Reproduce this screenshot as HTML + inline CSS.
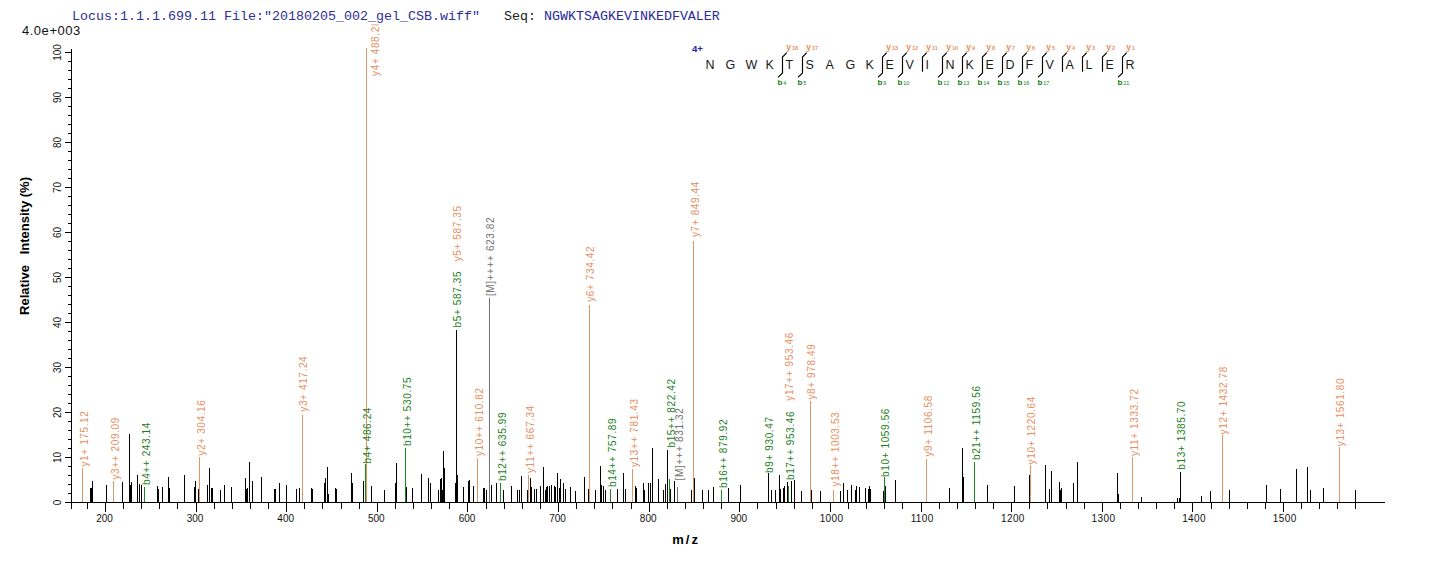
<!DOCTYPE html><html><head><meta charset="utf-8"><style>html,body{margin:0;padding:0;background:#fff;width:1436px;height:562px;overflow:hidden}svg{display:block}.s{font-family:"Liberation Sans",sans-serif}.m{font-family:"Liberation Mono",monospace}</style></head><body><svg width="1436" height="562" viewBox="0 0 1436 562"><rect width="1436" height="562" fill="#fff"/><rect x="82" y="468" width="1" height="34" fill="#D99866"/><rect x="90" y="488" width="1" height="14" fill="#000"/><rect x="91" y="488" width="1" height="14" fill="#000"/><rect x="92" y="481" width="1" height="21" fill="#000"/><rect x="106" y="485" width="1" height="17" fill="#000"/><rect x="113" y="481" width="1" height="21" fill="#D99866"/><rect x="122" y="482" width="1" height="20" fill="#000"/><rect x="129" y="434" width="1" height="68" fill="#000"/><rect x="130" y="485" width="1" height="17" fill="#000"/><rect x="131" y="482" width="1" height="20" fill="#000"/><rect x="137" y="475" width="1" height="27" fill="#000"/><rect x="139" y="484" width="1" height="18" fill="#000"/><rect x="141" y="485" width="1" height="17" fill="#000"/><rect x="144" y="487" width="1" height="15" fill="#1E881E"/><rect x="157" y="486" width="1" height="16" fill="#000"/><rect x="158" y="489" width="1" height="13" fill="#000"/><rect x="162" y="487" width="1" height="15" fill="#000"/><rect x="168" y="477" width="1" height="25" fill="#000"/><rect x="169" y="488" width="1" height="14" fill="#000"/><rect x="184" y="475" width="1" height="27" fill="#000"/><rect x="194" y="487" width="1" height="15" fill="#000"/><rect x="195" y="481" width="1" height="21" fill="#000"/><rect x="198" y="489" width="1" height="13" fill="#000"/><rect x="199" y="457" width="1" height="45" fill="#D99866"/><rect x="207" y="485" width="1" height="17" fill="#000"/><rect x="209" y="468" width="1" height="34" fill="#000"/><rect x="211" y="488" width="1" height="14" fill="#000"/><rect x="212" y="488" width="1" height="14" fill="#000"/><rect x="220" y="490" width="1" height="12" fill="#000"/><rect x="224" y="485" width="1" height="17" fill="#000"/><rect x="231" y="487" width="1" height="15" fill="#000"/><rect x="245" y="478" width="1" height="24" fill="#000"/><rect x="246" y="489" width="1" height="13" fill="#000"/><rect x="247" y="488" width="1" height="14" fill="#000"/><rect x="249" y="462" width="1" height="40" fill="#000"/><rect x="252" y="481" width="1" height="21" fill="#000"/><rect x="261" y="477" width="1" height="25" fill="#000"/><rect x="274" y="489" width="1" height="13" fill="#000"/><rect x="275" y="489" width="1" height="13" fill="#000"/><rect x="279" y="483" width="1" height="19" fill="#000"/><rect x="286" y="485" width="1" height="17" fill="#000"/><rect x="296" y="489" width="1" height="13" fill="#000"/><rect x="299" y="488" width="1" height="14" fill="#000"/><rect x="302" y="415" width="1" height="87" fill="#D99866"/><rect x="311" y="488" width="1" height="14" fill="#000"/><rect x="312" y="489" width="1" height="13" fill="#000"/><rect x="324" y="483" width="1" height="19" fill="#000"/><rect x="325" y="478" width="1" height="24" fill="#000"/><rect x="327" y="467" width="1" height="35" fill="#000"/><rect x="328" y="494" width="1" height="8" fill="#000"/><rect x="335" y="488" width="1" height="14" fill="#000"/><rect x="336" y="489" width="1" height="13" fill="#000"/><rect x="351" y="473" width="1" height="29" fill="#000"/><rect x="352" y="483" width="1" height="19" fill="#000"/><rect x="363" y="481" width="1" height="21" fill="#000"/><rect x="365" y="464" width="1" height="38" fill="#1E881E"/><rect x="366" y="48" width="1" height="454" fill="#D99866"/><rect x="371" y="486" width="1" height="16" fill="#000"/><rect x="384" y="490" width="1" height="12" fill="#000"/><rect x="395" y="483" width="1" height="19" fill="#000"/><rect x="396" y="463" width="1" height="39" fill="#000"/><rect x="405" y="448" width="1" height="54" fill="#1E881E"/><rect x="406" y="487" width="1" height="15" fill="#000"/><rect x="412" y="488" width="1" height="14" fill="#000"/><rect x="421" y="474" width="1" height="28" fill="#000"/><rect x="428" y="478" width="1" height="24" fill="#000"/><rect x="430" y="483" width="1" height="19" fill="#000"/><rect x="438" y="490" width="1" height="12" fill="#000"/><rect x="440" y="479" width="1" height="23" fill="#000"/><rect x="441" y="478" width="1" height="24" fill="#000"/><rect x="442" y="490" width="1" height="12" fill="#000"/><rect x="443" y="451" width="1" height="51" fill="#000"/><rect x="444" y="468" width="1" height="34" fill="#000"/><rect x="455" y="483" width="1" height="19" fill="#000"/><rect x="456" y="330" width="1" height="172" fill="#000"/><rect x="457" y="475" width="1" height="27" fill="#000"/><rect x="463" y="487" width="1" height="15" fill="#000"/><rect x="468" y="481" width="1" height="21" fill="#000"/><rect x="469" y="480" width="1" height="22" fill="#000"/><rect x="473" y="486" width="1" height="16" fill="#000"/><rect x="477" y="458" width="1" height="44" fill="#D99866"/><rect x="483" y="488" width="1" height="14" fill="#000"/><rect x="484" y="488" width="1" height="14" fill="#000"/><rect x="486" y="490" width="1" height="12" fill="#000"/><rect x="489" y="298" width="1" height="204" fill="#707070"/><rect x="491" y="485" width="1" height="17" fill="#000"/><rect x="496" y="483" width="1" height="19" fill="#000"/><rect x="500" y="483" width="1" height="19" fill="#1E881E"/><rect x="503" y="490" width="1" height="12" fill="#000"/><rect x="511" y="486" width="1" height="16" fill="#000"/><rect x="517" y="490" width="1" height="12" fill="#000"/><rect x="519" y="490" width="1" height="12" fill="#000"/><rect x="521" y="476" width="1" height="26" fill="#000"/><rect x="527" y="490" width="1" height="12" fill="#000"/><rect x="528" y="475" width="1" height="27" fill="#D99866"/><rect x="530" y="478" width="1" height="24" fill="#000"/><rect x="531" y="487" width="1" height="15" fill="#000"/><rect x="534" y="489" width="1" height="13" fill="#000"/><rect x="536" y="489" width="1" height="13" fill="#000"/><rect x="540" y="486" width="1" height="16" fill="#000"/><rect x="543" y="467" width="1" height="35" fill="#000"/><rect x="545" y="490" width="1" height="12" fill="#000"/><rect x="546" y="487" width="1" height="15" fill="#000"/><rect x="547" y="486" width="1" height="16" fill="#000"/><rect x="549" y="486" width="1" height="16" fill="#000"/><rect x="551" y="485" width="1" height="17" fill="#000"/><rect x="554" y="486" width="1" height="16" fill="#000"/><rect x="555" y="487" width="1" height="15" fill="#000"/><rect x="557" y="473" width="1" height="29" fill="#000"/><rect x="559" y="488" width="1" height="14" fill="#000"/><rect x="560" y="479" width="1" height="23" fill="#000"/><rect x="563" y="483" width="1" height="19" fill="#000"/><rect x="565" y="489" width="1" height="13" fill="#000"/><rect x="570" y="487" width="1" height="15" fill="#000"/><rect x="575" y="491" width="1" height="11" fill="#000"/><rect x="584" y="477" width="1" height="25" fill="#000"/><rect x="588" y="489" width="1" height="13" fill="#000"/><rect x="589" y="305" width="1" height="197" fill="#D99866"/><rect x="595" y="490" width="1" height="12" fill="#000"/><rect x="600" y="466" width="1" height="36" fill="#000"/><rect x="601" y="485" width="1" height="17" fill="#000"/><rect x="603" y="486" width="1" height="16" fill="#000"/><rect x="605" y="490" width="1" height="12" fill="#000"/><rect x="610" y="489" width="1" height="13" fill="#1E881E"/><rect x="617" y="489" width="1" height="13" fill="#000"/><rect x="623" y="473" width="1" height="29" fill="#000"/><rect x="625" y="489" width="1" height="13" fill="#000"/><rect x="632" y="469" width="1" height="33" fill="#D99866"/><rect x="635" y="486" width="1" height="16" fill="#000"/><rect x="636" y="488" width="1" height="14" fill="#000"/><rect x="643" y="483" width="1" height="19" fill="#000"/><rect x="644" y="490" width="1" height="12" fill="#000"/><rect x="648" y="483" width="1" height="19" fill="#000"/><rect x="650" y="483" width="1" height="19" fill="#000"/><rect x="652" y="448" width="1" height="54" fill="#000"/><rect x="658" y="479" width="1" height="23" fill="#000"/><rect x="663" y="490" width="1" height="12" fill="#000"/><rect x="665" y="484" width="1" height="18" fill="#000"/><rect x="667" y="450" width="1" height="52" fill="#000"/><rect x="669" y="479" width="1" height="23" fill="#1E881E"/><rect x="670" y="489" width="1" height="13" fill="#000"/><rect x="674" y="481" width="1" height="21" fill="#000"/><rect x="677" y="487" width="1" height="15" fill="#707070"/><rect x="691" y="490" width="1" height="12" fill="#000"/><rect x="693" y="241" width="1" height="261" fill="#D99866"/><rect x="694" y="478" width="1" height="24" fill="#000"/><rect x="702" y="490" width="1" height="12" fill="#000"/><rect x="708" y="490" width="1" height="12" fill="#000"/><rect x="713" y="487" width="1" height="15" fill="#000"/><rect x="721" y="490" width="1" height="12" fill="#1E881E"/><rect x="728" y="488" width="1" height="14" fill="#000"/><rect x="740" y="485" width="1" height="17" fill="#000"/><rect x="768" y="473" width="1" height="29" fill="#000"/><rect x="771" y="490" width="1" height="12" fill="#000"/><rect x="775" y="490" width="1" height="12" fill="#000"/><rect x="779" y="475" width="1" height="27" fill="#000"/><rect x="780" y="489" width="1" height="13" fill="#000"/><rect x="783" y="488" width="1" height="14" fill="#000"/><rect x="784" y="486" width="1" height="16" fill="#000"/><rect x="787" y="482" width="1" height="20" fill="#000"/><rect x="788" y="486" width="1" height="16" fill="#1E881E"/><rect x="791" y="481" width="1" height="21" fill="#000"/><rect x="794" y="480" width="1" height="22" fill="#000"/><rect x="801" y="491" width="1" height="11" fill="#000"/><rect x="810" y="401" width="1" height="101" fill="#D99866"/><rect x="811" y="490" width="1" height="12" fill="#000"/><rect x="820" y="491" width="1" height="11" fill="#000"/><rect x="833" y="490" width="1" height="12" fill="#D99866"/><rect x="840" y="491" width="1" height="11" fill="#000"/><rect x="843" y="483" width="1" height="19" fill="#000"/><rect x="847" y="490" width="1" height="12" fill="#000"/><rect x="851" y="485" width="1" height="17" fill="#000"/><rect x="855" y="490" width="1" height="12" fill="#000"/><rect x="856" y="486" width="1" height="16" fill="#000"/><rect x="859" y="487" width="1" height="15" fill="#000"/><rect x="865" y="488" width="1" height="14" fill="#000"/><rect x="868" y="489" width="1" height="13" fill="#000"/><rect x="869" y="486" width="1" height="16" fill="#000"/><rect x="870" y="489" width="1" height="13" fill="#000"/><rect x="883" y="491" width="1" height="11" fill="#000"/><rect x="884" y="477" width="1" height="25" fill="#1E881E"/><rect x="885" y="486" width="1" height="16" fill="#000"/><rect x="895" y="480" width="1" height="22" fill="#000"/><rect x="926" y="459" width="1" height="43" fill="#D99866"/><rect x="949" y="488" width="1" height="14" fill="#000"/><rect x="962" y="448" width="1" height="54" fill="#000"/><rect x="963" y="477" width="1" height="25" fill="#000"/><rect x="974" y="462" width="1" height="40" fill="#1E881E"/><rect x="987" y="485" width="1" height="17" fill="#000"/><rect x="1014" y="486" width="1" height="16" fill="#000"/><rect x="1029" y="475" width="1" height="27" fill="#000"/><rect x="1030" y="465" width="1" height="37" fill="#D99866"/><rect x="1045" y="465" width="1" height="37" fill="#000"/><rect x="1049" y="489" width="1" height="13" fill="#000"/><rect x="1051" y="471" width="1" height="31" fill="#000"/><rect x="1059" y="482" width="1" height="20" fill="#000"/><rect x="1060" y="490" width="1" height="12" fill="#000"/><rect x="1061" y="488" width="1" height="14" fill="#000"/><rect x="1073" y="483" width="1" height="19" fill="#000"/><rect x="1077" y="462" width="1" height="40" fill="#000"/><rect x="1117" y="473" width="1" height="29" fill="#000"/><rect x="1118" y="494" width="1" height="8" fill="#000"/><rect x="1132" y="457" width="1" height="45" fill="#D99866"/><rect x="1141" y="497" width="1" height="5" fill="#000"/><rect x="1177" y="498" width="1" height="4" fill="#000"/><rect x="1179" y="498" width="1" height="4" fill="#000"/><rect x="1180" y="472" width="1" height="30" fill="#000"/><rect x="1201" y="496" width="1" height="6" fill="#000"/><rect x="1210" y="491" width="1" height="11" fill="#000"/><rect x="1222" y="435" width="1" height="67" fill="#D99866"/><rect x="1229" y="490" width="1" height="12" fill="#000"/><rect x="1266" y="485" width="1" height="17" fill="#000"/><rect x="1280" y="489" width="1" height="13" fill="#000"/><rect x="1296" y="469" width="1" height="33" fill="#000"/><rect x="1307" y="467" width="1" height="35" fill="#000"/><rect x="1310" y="490" width="1" height="12" fill="#000"/><rect x="1323" y="488" width="1" height="14" fill="#000"/><rect x="1339" y="447" width="1" height="55" fill="#D99866"/><rect x="1355" y="490" width="1" height="12" fill="#000"/><rect x="65" y="502" width="1320" height="1" fill="#000"/><rect x="71" y="49" width="1" height="460" fill="#000"/><rect x="65" y="502" width="6" height="1" fill="#000"/><rect x="68" y="493" width="3" height="1" fill="#000"/><rect x="68" y="484" width="3" height="1" fill="#000"/><rect x="68" y="475" width="3" height="1" fill="#000"/><rect x="68" y="466" width="3" height="1" fill="#000"/><rect x="65" y="457" width="6" height="1" fill="#000"/><rect x="68" y="448" width="3" height="1" fill="#000"/><rect x="68" y="439" width="3" height="1" fill="#000"/><rect x="68" y="430" width="3" height="1" fill="#000"/><rect x="68" y="421" width="3" height="1" fill="#000"/><rect x="65" y="412" width="6" height="1" fill="#000"/><rect x="68" y="403" width="3" height="1" fill="#000"/><rect x="68" y="394" width="3" height="1" fill="#000"/><rect x="68" y="385" width="3" height="1" fill="#000"/><rect x="68" y="376" width="3" height="1" fill="#000"/><rect x="65" y="367" width="6" height="1" fill="#000"/><rect x="68" y="358" width="3" height="1" fill="#000"/><rect x="68" y="349" width="3" height="1" fill="#000"/><rect x="68" y="340" width="3" height="1" fill="#000"/><rect x="68" y="331" width="3" height="1" fill="#000"/><rect x="65" y="322" width="6" height="1" fill="#000"/><rect x="68" y="313" width="3" height="1" fill="#000"/><rect x="68" y="304" width="3" height="1" fill="#000"/><rect x="68" y="295" width="3" height="1" fill="#000"/><rect x="68" y="286" width="3" height="1" fill="#000"/><rect x="65" y="277" width="6" height="1" fill="#000"/><rect x="68" y="268" width="3" height="1" fill="#000"/><rect x="68" y="259" width="3" height="1" fill="#000"/><rect x="68" y="250" width="3" height="1" fill="#000"/><rect x="68" y="241" width="3" height="1" fill="#000"/><rect x="65" y="232" width="6" height="1" fill="#000"/><rect x="68" y="223" width="3" height="1" fill="#000"/><rect x="68" y="214" width="3" height="1" fill="#000"/><rect x="68" y="205" width="3" height="1" fill="#000"/><rect x="68" y="196" width="3" height="1" fill="#000"/><rect x="65" y="187" width="6" height="1" fill="#000"/><rect x="68" y="178" width="3" height="1" fill="#000"/><rect x="68" y="169" width="3" height="1" fill="#000"/><rect x="68" y="160" width="3" height="1" fill="#000"/><rect x="68" y="151" width="3" height="1" fill="#000"/><rect x="65" y="142" width="6" height="1" fill="#000"/><rect x="68" y="133" width="3" height="1" fill="#000"/><rect x="68" y="124" width="3" height="1" fill="#000"/><rect x="68" y="115" width="3" height="1" fill="#000"/><rect x="68" y="106" width="3" height="1" fill="#000"/><rect x="65" y="97" width="6" height="1" fill="#000"/><rect x="68" y="88" width="3" height="1" fill="#000"/><rect x="68" y="79" width="3" height="1" fill="#000"/><rect x="68" y="70" width="3" height="1" fill="#000"/><rect x="68" y="61" width="3" height="1" fill="#000"/><rect x="65" y="52" width="6" height="1" fill="#000"/><rect x="87" y="503" width="1" height="6" fill="#000"/><rect x="105" y="503" width="1" height="9" fill="#000"/><rect x="123" y="503" width="1" height="6" fill="#000"/><rect x="141" y="503" width="1" height="6" fill="#000"/><rect x="159" y="503" width="1" height="6" fill="#000"/><rect x="177" y="503" width="1" height="6" fill="#000"/><rect x="196" y="503" width="1" height="9" fill="#000"/><rect x="214" y="503" width="1" height="6" fill="#000"/><rect x="232" y="503" width="1" height="6" fill="#000"/><rect x="250" y="503" width="1" height="6" fill="#000"/><rect x="268" y="503" width="1" height="6" fill="#000"/><rect x="286" y="503" width="1" height="9" fill="#000"/><rect x="304" y="503" width="1" height="6" fill="#000"/><rect x="322" y="503" width="1" height="6" fill="#000"/><rect x="341" y="503" width="1" height="6" fill="#000"/><rect x="359" y="503" width="1" height="6" fill="#000"/><rect x="377" y="503" width="1" height="9" fill="#000"/><rect x="395" y="503" width="1" height="6" fill="#000"/><rect x="413" y="503" width="1" height="6" fill="#000"/><rect x="431" y="503" width="1" height="6" fill="#000"/><rect x="449" y="503" width="1" height="6" fill="#000"/><rect x="467" y="503" width="1" height="9" fill="#000"/><rect x="486" y="503" width="1" height="6" fill="#000"/><rect x="504" y="503" width="1" height="6" fill="#000"/><rect x="522" y="503" width="1" height="6" fill="#000"/><rect x="540" y="503" width="1" height="6" fill="#000"/><rect x="558" y="503" width="1" height="9" fill="#000"/><rect x="576" y="503" width="1" height="6" fill="#000"/><rect x="594" y="503" width="1" height="6" fill="#000"/><rect x="612" y="503" width="1" height="6" fill="#000"/><rect x="631" y="503" width="1" height="6" fill="#000"/><rect x="649" y="503" width="1" height="9" fill="#000"/><rect x="667" y="503" width="1" height="6" fill="#000"/><rect x="685" y="503" width="1" height="6" fill="#000"/><rect x="703" y="503" width="1" height="6" fill="#000"/><rect x="721" y="503" width="1" height="6" fill="#000"/><rect x="739" y="503" width="1" height="9" fill="#000"/><rect x="757" y="503" width="1" height="6" fill="#000"/><rect x="776" y="503" width="1" height="6" fill="#000"/><rect x="794" y="503" width="1" height="6" fill="#000"/><rect x="812" y="503" width="1" height="6" fill="#000"/><rect x="830" y="503" width="1" height="9" fill="#000"/><rect x="848" y="503" width="1" height="6" fill="#000"/><rect x="866" y="503" width="1" height="6" fill="#000"/><rect x="884" y="503" width="1" height="6" fill="#000"/><rect x="902" y="503" width="1" height="6" fill="#000"/><rect x="921" y="503" width="1" height="9" fill="#000"/><rect x="939" y="503" width="1" height="6" fill="#000"/><rect x="957" y="503" width="1" height="6" fill="#000"/><rect x="975" y="503" width="1" height="6" fill="#000"/><rect x="993" y="503" width="1" height="6" fill="#000"/><rect x="1011" y="503" width="1" height="9" fill="#000"/><rect x="1029" y="503" width="1" height="6" fill="#000"/><rect x="1047" y="503" width="1" height="6" fill="#000"/><rect x="1066" y="503" width="1" height="6" fill="#000"/><rect x="1084" y="503" width="1" height="6" fill="#000"/><rect x="1102" y="503" width="1" height="9" fill="#000"/><rect x="1120" y="503" width="1" height="6" fill="#000"/><rect x="1138" y="503" width="1" height="6" fill="#000"/><rect x="1156" y="503" width="1" height="6" fill="#000"/><rect x="1174" y="503" width="1" height="6" fill="#000"/><rect x="1192" y="503" width="1" height="9" fill="#000"/><rect x="1211" y="503" width="1" height="6" fill="#000"/><rect x="1229" y="503" width="1" height="6" fill="#000"/><rect x="1247" y="503" width="1" height="6" fill="#000"/><rect x="1265" y="503" width="1" height="6" fill="#000"/><rect x="1283" y="503" width="1" height="9" fill="#000"/><rect x="1301" y="503" width="1" height="6" fill="#000"/><rect x="1319" y="503" width="1" height="6" fill="#000"/><rect x="1337" y="503" width="1" height="6" fill="#000"/><rect x="1355" y="503" width="1" height="6" fill="#000"/><text class="s" x="61.3" y="502.5" font-size="10" fill="#111" text-anchor="middle" transform="rotate(-90 61.3 502.5)">0</text><text class="s" x="61.3" y="457.5" font-size="10" fill="#111" text-anchor="middle" transform="rotate(-90 61.3 457.5)">10</text><text class="s" x="61.3" y="412.5" font-size="10" fill="#111" text-anchor="middle" transform="rotate(-90 61.3 412.5)">20</text><text class="s" x="61.3" y="367.5" font-size="10" fill="#111" text-anchor="middle" transform="rotate(-90 61.3 367.5)">30</text><text class="s" x="61.3" y="322.5" font-size="10" fill="#111" text-anchor="middle" transform="rotate(-90 61.3 322.5)">40</text><text class="s" x="61.3" y="277.5" font-size="10" fill="#111" text-anchor="middle" transform="rotate(-90 61.3 277.5)">50</text><text class="s" x="61.3" y="232.5" font-size="10" fill="#111" text-anchor="middle" transform="rotate(-90 61.3 232.5)">60</text><text class="s" x="61.3" y="187.5" font-size="10" fill="#111" text-anchor="middle" transform="rotate(-90 61.3 187.5)">70</text><text class="s" x="61.3" y="142.5" font-size="10" fill="#111" text-anchor="middle" transform="rotate(-90 61.3 142.5)">80</text><text class="s" x="61.3" y="97.5" font-size="10" fill="#111" text-anchor="middle" transform="rotate(-90 61.3 97.5)">90</text><text class="s" x="61.3" y="52.5" font-size="10" fill="#111" text-anchor="middle" transform="rotate(-90 61.3 52.5)">100</text><text class="s" x="104.5" y="522" font-size="10" fill="#111" text-anchor="middle">200</text><text class="s" x="195.1" y="522" font-size="10" fill="#111" text-anchor="middle">300</text><text class="s" x="285.7" y="522" font-size="10" fill="#111" text-anchor="middle">400</text><text class="s" x="376.3" y="522" font-size="10" fill="#111" text-anchor="middle">500</text><text class="s" x="467.0" y="522" font-size="10" fill="#111" text-anchor="middle">600</text><text class="s" x="557.6" y="522" font-size="10" fill="#111" text-anchor="middle">700</text><text class="s" x="648.2" y="522" font-size="10" fill="#111" text-anchor="middle">800</text><text class="s" x="738.8" y="522" font-size="10" fill="#111" text-anchor="middle">900</text><text class="s" x="831.6" y="522" font-size="10" letter-spacing="0.4" fill="#111" text-anchor="middle">1000</text><text class="s" x="922.2" y="522" font-size="10" letter-spacing="0.4" fill="#111" text-anchor="middle">1100</text><text class="s" x="1012.9" y="522" font-size="10" letter-spacing="0.4" fill="#111" text-anchor="middle">1200</text><text class="s" x="1103.5" y="522" font-size="10" letter-spacing="0.4" fill="#111" text-anchor="middle">1300</text><text class="s" x="1194.1" y="522" font-size="10" letter-spacing="0.4" fill="#111" text-anchor="middle">1400</text><text class="s" x="1284.7" y="522" font-size="10" letter-spacing="0.4" fill="#111" text-anchor="middle">1500</text><text class="s" x="29" y="246" font-size="13" font-weight="bold" fill="#000" text-anchor="middle" transform="rotate(-90 29 246)" xml:space="preserve">Relative   Intensity (%)</text><text class="s" x="672.3" y="544.2" font-size="13" font-weight="bold" fill="#000" letter-spacing="2">m/z</text><clipPath id="cl"><rect x="0" y="24.2" width="1436" height="600"/></clipPath><g clip-path="url(#cl)"><text class="s" x="87.5" y="466.5" font-size="10" letter-spacing="0.62" fill="#E58F62" transform="rotate(-90 87.5 466.5)">y1+ 175.12</text><text class="s" x="118.5" y="479.5" font-size="10" letter-spacing="0.62" fill="#E58F62" transform="rotate(-90 118.5 479.5)">y3++ 209.09</text><text class="s" x="149.5" y="485.0" font-size="10" letter-spacing="0.62" fill="#1C801C" transform="rotate(-90 149.5 485.0)">b4++ 243.14</text><text class="s" x="204.5" y="455.5" font-size="10" letter-spacing="0.62" fill="#E58F62" transform="rotate(-90 204.5 455.5)">y2+ 304.16</text><text class="s" x="307.5" y="411.7" font-size="10" letter-spacing="0.62" fill="#E58F62" transform="rotate(-90 307.5 411.7)">y3+ 417.24</text><text class="s" x="378.8" y="75.9" font-size="10" letter-spacing="0.62" fill="#E58F62" transform="rotate(-90 378.8 75.9)">y4+ 488.28</text><text class="s" x="370.5" y="463.5" font-size="10" letter-spacing="0.62" fill="#1C801C" transform="rotate(-90 370.5 463.5)">b4+ 486.24</text><text class="s" x="410.5" y="446.0" font-size="10" letter-spacing="0.62" fill="#1C801C" transform="rotate(-90 410.5 446.0)">b10++ 530.75</text><text class="s" x="461.5" y="327.4" font-size="10" letter-spacing="0.62" fill="#1C801C" transform="rotate(-90 461.5 327.4)">b5+ 587.35</text><text class="s" x="461.5" y="261.3" font-size="10" letter-spacing="0.62" fill="#E58F62" transform="rotate(-90 461.5 261.3)">y5+ 587.35</text><text class="s" x="494.5" y="296.1" font-size="10" letter-spacing="0.62" fill="#707070" transform="rotate(-90 494.5 296.1)">[M]++++ 623.82</text><text class="s" x="482.5" y="456.0" font-size="10" letter-spacing="0.62" fill="#E58F62" transform="rotate(-90 482.5 456.0)">y10++ 610.82</text><text class="s" x="505.5" y="481.0" font-size="10" letter-spacing="0.62" fill="#1C801C" transform="rotate(-90 505.5 481.0)">b12++ 635.99</text><text class="s" x="533.5" y="473.0" font-size="10" letter-spacing="0.62" fill="#E58F62" transform="rotate(-90 533.5 473.0)">y11++ 667.34</text><text class="s" x="594.0" y="301.8" font-size="10" letter-spacing="0.62" fill="#E58F62" transform="rotate(-90 594.0 301.8)">y6+ 734.42</text><text class="s" x="615.5" y="487.0" font-size="10" letter-spacing="0.62" fill="#1C801C" transform="rotate(-90 615.5 487.0)">b14++ 757.89</text><text class="s" x="637.5" y="467.0" font-size="10" letter-spacing="0.62" fill="#E58F62" transform="rotate(-90 637.5 467.0)">y13++ 781.43</text><text class="s" x="674.5" y="447.5" font-size="10" letter-spacing="0.62" fill="#1C801C" transform="rotate(-90 674.5 447.5)">b15++ 822.42</text><text class="s" x="682.5" y="480.5" font-size="10" letter-spacing="0.62" fill="#707070" transform="rotate(-90 682.5 480.5)">[M]+++ 831.32</text><text class="s" x="698.5" y="237.0" font-size="10" letter-spacing="0.62" fill="#E58F62" transform="rotate(-90 698.5 237.0)">y7+ 849.44</text><text class="s" x="726.5" y="488.0" font-size="10" letter-spacing="0.62" fill="#1C801C" transform="rotate(-90 726.5 488.0)">b16++ 879.92</text><text class="s" x="773.5" y="472.9" font-size="10" letter-spacing="0.62" fill="#1C801C" transform="rotate(-90 773.5 472.9)">b9+ 930.47</text><text class="s" x="793.5" y="480.0" font-size="10" letter-spacing="0.62" fill="#1C801C" transform="rotate(-90 793.5 480.0)">b17++ 953.46</text><text class="s" x="793.5" y="400.7" font-size="10" letter-spacing="0.62" fill="#E58F62" transform="rotate(-90 793.5 400.7)">y17++ 953.46</text><text class="s" x="815.5" y="399.6" font-size="10" letter-spacing="0.62" fill="#E58F62" transform="rotate(-90 815.5 399.6)">y8+ 978.49</text><text class="s" x="838.5" y="486.5" font-size="10" letter-spacing="0.62" fill="#E58F62" transform="rotate(-90 838.5 486.5)">y18++ 1003.53</text><text class="s" x="889.5" y="476.9" font-size="10" letter-spacing="0.62" fill="#1C801C" transform="rotate(-90 889.5 476.9)">b10+ 1059.56</text><text class="s" x="931.5" y="456.5" font-size="10" letter-spacing="0.62" fill="#E58F62" transform="rotate(-90 931.5 456.5)">y9+ 1106.58</text><text class="s" x="979.5" y="460.0" font-size="10" letter-spacing="0.62" fill="#1C801C" transform="rotate(-90 979.5 460.0)">b21++ 1159.56</text><text class="s" x="1035.5" y="464.4" font-size="10" letter-spacing="0.62" fill="#E58F62" transform="rotate(-90 1035.5 464.4)">y10+ 1220.64</text><text class="s" x="1137.5" y="456.0" font-size="10" letter-spacing="0.62" fill="#E58F62" transform="rotate(-90 1137.5 456.0)">y11+ 1333.72</text><text class="s" x="1185.5" y="469.7" font-size="10" letter-spacing="0.62" fill="#1C801C" transform="rotate(-90 1185.5 469.7)">b13+ 1385.70</text><text class="s" x="1227.5" y="434.4" font-size="10" letter-spacing="0.62" fill="#E58F62" transform="rotate(-90 1227.5 434.4)">y12+ 1432.78</text><text class="s" x="1344.5" y="446.2" font-size="10" letter-spacing="0.62" fill="#E58F62" transform="rotate(-90 1344.5 446.2)">y13+ 1561.80</text></g><text class="m" x="72" y="20" font-size="13.33" fill="#2E2E96" xml:space="preserve">Locus:1.1.1.699.11 File:"20180205_002_gel_CSB.wiff"   <tspan fill="#222">Seq:</tspan> <tspan fill="#2A2A9E">NGWKTSAGKEVINKEDFVALER</tspan></text><text class="s" x="21.9" y="34.8" font-size="13" letter-spacing="0.55" fill="#111">4.0e+003</text><text class="s" x="705.6" y="68.7" font-size="12.5" fill="#1a1a1a">N</text><text class="s" x="725.6" y="68.7" font-size="12.5" fill="#1a1a1a">G</text><text class="s" x="745.6" y="68.7" font-size="12.5" fill="#1a1a1a">W</text><text class="s" x="765.6" y="68.7" font-size="12.5" fill="#1a1a1a">K</text><text class="s" x="785.6" y="68.7" font-size="12.5" fill="#1a1a1a">T</text><text class="s" x="805.6" y="68.7" font-size="12.5" fill="#1a1a1a">S</text><text class="s" x="825.6" y="68.7" font-size="12.5" fill="#1a1a1a">A</text><text class="s" x="845.6" y="68.7" font-size="12.5" fill="#1a1a1a">G</text><text class="s" x="865.6" y="68.7" font-size="12.5" fill="#1a1a1a">K</text><text class="s" x="885.6" y="68.7" font-size="12.5" fill="#1a1a1a">E</text><text class="s" x="905.6" y="68.7" font-size="12.5" fill="#1a1a1a">V</text><text class="s" x="925.6" y="68.7" font-size="12.5" fill="#1a1a1a">I</text><text class="s" x="945.6" y="68.7" font-size="12.5" fill="#1a1a1a">N</text><text class="s" x="965.6" y="68.7" font-size="12.5" fill="#1a1a1a">K</text><text class="s" x="985.6" y="68.7" font-size="12.5" fill="#1a1a1a">E</text><text class="s" x="1005.6" y="68.7" font-size="12.5" fill="#1a1a1a">D</text><text class="s" x="1025.6" y="68.7" font-size="12.5" fill="#1a1a1a">F</text><text class="s" x="1045.6" y="68.7" font-size="12.5" fill="#1a1a1a">V</text><text class="s" x="1065.6" y="68.7" font-size="12.5" fill="#1a1a1a">A</text><text class="s" x="1085.6" y="68.7" font-size="12.5" fill="#1a1a1a">L</text><text class="s" x="1105.6" y="68.7" font-size="12.5" fill="#1a1a1a">E</text><text class="s" x="1125.6" y="68.7" font-size="12.5" fill="#1a1a1a">R</text><text class="s" x="692" y="51.6" font-size="9.6" font-weight="bold" fill="#2222B0">4+</text><text class="s" x="786.3" y="50.2" font-size="8.5" fill="#EA9260" font-weight="bold">y<tspan font-size="5.5" dx="1">18</tspan></text><text class="s" x="777.5" y="84.8" font-size="8" font-weight="bold" fill="#168016">b<tspan font-size="5.5" font-weight="normal" dx="0.8">4</tspan></text><text class="s" x="806.3" y="50.2" font-size="8.5" fill="#EA9260" font-weight="bold">y<tspan font-size="5.5" dx="1">17</tspan></text><text class="s" x="797.5" y="84.8" font-size="8" font-weight="bold" fill="#168016">b<tspan font-size="5.5" font-weight="normal" dx="0.8">5</tspan></text><text class="s" x="886.3" y="50.2" font-size="8.5" fill="#EA9260" font-weight="bold">y<tspan font-size="5.5" dx="1">13</tspan></text><text class="s" x="877.5" y="84.8" font-size="8" font-weight="bold" fill="#168016">b<tspan font-size="5.5" font-weight="normal" dx="0.8">9</tspan></text><text class="s" x="906.3" y="50.2" font-size="8.5" fill="#EA9260" font-weight="bold">y<tspan font-size="5.5" dx="1">12</tspan></text><text class="s" x="897.5" y="84.8" font-size="8" font-weight="bold" fill="#168016">b<tspan font-size="5.5" font-weight="normal" dx="0.8">10</tspan></text><text class="s" x="926.3" y="50.2" font-size="8.5" fill="#EA9260" font-weight="bold">y<tspan font-size="5.5" dx="1">11</tspan></text><text class="s" x="946.3" y="50.2" font-size="8.5" fill="#EA9260" font-weight="bold">y<tspan font-size="5.5" dx="1">10</tspan></text><text class="s" x="937.5" y="84.8" font-size="8" font-weight="bold" fill="#168016">b<tspan font-size="5.5" font-weight="normal" dx="0.8">12</tspan></text><text class="s" x="966.3" y="50.2" font-size="8.5" fill="#EA9260" font-weight="bold">y<tspan font-size="5.5" dx="1">9</tspan></text><text class="s" x="957.5" y="84.8" font-size="8" font-weight="bold" fill="#168016">b<tspan font-size="5.5" font-weight="normal" dx="0.8">13</tspan></text><text class="s" x="986.3" y="50.2" font-size="8.5" fill="#EA9260" font-weight="bold">y<tspan font-size="5.5" dx="1">8</tspan></text><text class="s" x="977.5" y="84.8" font-size="8" font-weight="bold" fill="#168016">b<tspan font-size="5.5" font-weight="normal" dx="0.8">14</tspan></text><text class="s" x="1006.3" y="50.2" font-size="8.5" fill="#EA9260" font-weight="bold">y<tspan font-size="5.5" dx="1">7</tspan></text><text class="s" x="997.5" y="84.8" font-size="8" font-weight="bold" fill="#168016">b<tspan font-size="5.5" font-weight="normal" dx="0.8">15</tspan></text><text class="s" x="1026.3" y="50.2" font-size="8.5" fill="#EA9260" font-weight="bold">y<tspan font-size="5.5" dx="1">6</tspan></text><text class="s" x="1017.5" y="84.8" font-size="8" font-weight="bold" fill="#168016">b<tspan font-size="5.5" font-weight="normal" dx="0.8">16</tspan></text><text class="s" x="1046.3" y="50.2" font-size="8.5" fill="#EA9260" font-weight="bold">y<tspan font-size="5.5" dx="1">5</tspan></text><text class="s" x="1037.5" y="84.8" font-size="8" font-weight="bold" fill="#168016">b<tspan font-size="5.5" font-weight="normal" dx="0.8">17</tspan></text><text class="s" x="1066.3" y="50.2" font-size="8.5" fill="#EA9260" font-weight="bold">y<tspan font-size="5.5" dx="1">4</tspan></text><text class="s" x="1086.3" y="50.2" font-size="8.5" fill="#EA9260" font-weight="bold">y<tspan font-size="5.5" dx="1">3</tspan></text><text class="s" x="1106.3" y="50.2" font-size="8.5" fill="#EA9260" font-weight="bold">y<tspan font-size="5.5" dx="1">2</tspan></text><text class="s" x="1126.3" y="50.2" font-size="8.5" fill="#EA9260" font-weight="bold">y<tspan font-size="5.5" dx="1">1</tspan></text><text class="s" x="1117.5" y="84.8" font-size="8" font-weight="bold" fill="#168016">b<tspan font-size="5.5" font-weight="normal" dx="0.8">21</tspan></text><path d="M786.8,52.7 L782.5,57 L782.5,73 L778.0,77.3 M806.8,52.7 L802.5,57 L802.5,73 L798.0,77.3 M886.8,52.7 L882.5,57 L882.5,73 L878.0,77.3 M906.8,52.7 L902.5,57 L902.5,73 L898.0,77.3 M926.8,52.7 L922.5,57 L922.5,71.7 M946.8,52.7 L942.5,57 L942.5,73 L938.0,77.3 M966.8,52.7 L962.5,57 L962.5,73 L958.0,77.3 M986.8,52.7 L982.5,57 L982.5,73 L978.0,77.3 M1006.8,52.7 L1002.5,57 L1002.5,73 L998.0,77.3 M1026.8,52.7 L1022.5,57 L1022.5,73 L1018.0,77.3 M1046.8,52.7 L1042.5,57 L1042.5,73 L1038.0,77.3 M1066.8,52.7 L1062.5,57 L1062.5,71.7 M1086.8,52.7 L1082.5,57 L1082.5,71.7 M1106.8,52.7 L1102.5,57 L1102.5,71.7 M1126.8,52.7 L1122.5,57 L1122.5,73 L1118.0,77.3" fill="none" stroke="#000" stroke-width="1.15"/></svg></body></html>
